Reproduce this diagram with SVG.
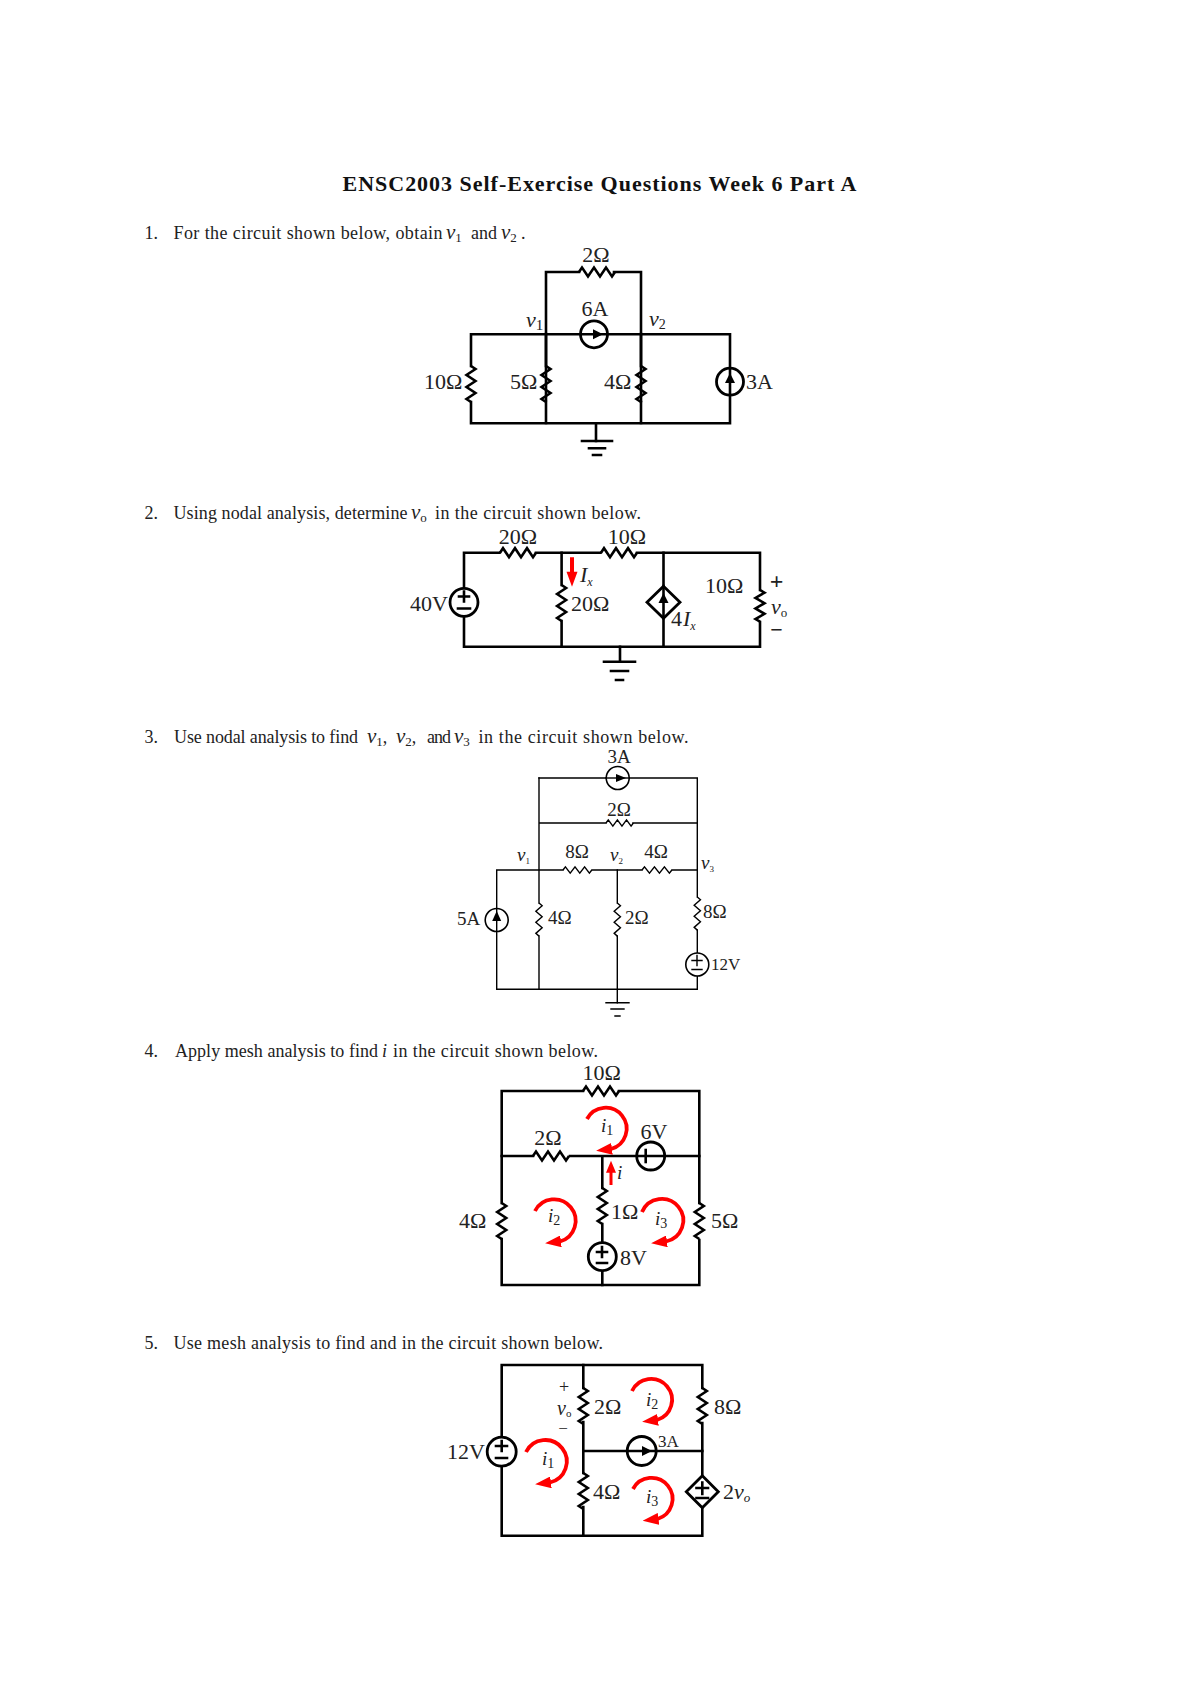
<svg xmlns="http://www.w3.org/2000/svg" width="1200" height="1696" viewBox="0 0 1200 1696" stroke-width="2.6">
<style>
text{font-family:"Liberation Serif","Times New Roman",serif;fill:#222;stroke:none}
.t{font-size:18px}
.h{font-size:22px;font-weight:bold;fill:#111}
.l{font-size:22px}
.m{font-size:19px}
.s{font-size:17px}
.i{font-style:italic}
.c{text-anchor:middle}
.n{font-style:normal}
.w,.w2,.b{fill:none;stroke:#000;stroke-linejoin:miter;stroke-linecap:square}
.w{stroke-width:2.6}
.w2{stroke-width:1.4}
.b{stroke-width:2.6}
.z{vector-effect:non-scaling-stroke;fill:none;stroke:#000;stroke-linejoin:miter}
.sr{fill:none;stroke:#000;stroke-width:2.8}
.sv{fill:#fff;stroke:#000;stroke-width:2.8}
.ar{fill:#000}
.ra{fill:none;stroke:#f00;stroke-width:3.8;marker-end:url(#rh)}
.rf{fill:#f00}
.q{font-size:21px;font-style:italic}
.th{stroke-width:1.4}
</style>
<defs>
<path id="rz" class="z" d="M0 0l3-4.5 6 9 6-9 6 9 6-9 6 9 3-4.5"/>
<marker id="rh" markerUnits="userSpaceOnUse" viewBox="0 0 16 12" refX="1" refY="6" markerWidth="16" markerHeight="12" orient="173"><path d="M0 0L16 6L0 12z" fill="#f00"/></marker>
</defs>

<g id="title"><text class="h" x="342.5" y="191" textLength="514" lengthAdjust="spacing">ENSC2003 Self-Exercise Questions Week 6 Part A</text></g>

<g id="q1-text" class="t">
<text x="144.5" y="239">1.</text>
<text x="173.5" y="239" textLength="269" lengthAdjust="spacing">For the circuit shown below, obtain</text>
<text class="q" x="446" y="239">v<tspan class="n" font-size="13" dy="3">1</tspan></text>
<text x="471" y="239" textLength="26" lengthAdjust="spacing">and</text>
<text class="q" x="501" y="239">v<tspan class="n" font-size="13" dy="3">2</tspan></text>
<text x="521" y="239">.</text>
</g>
<g id="q1-connectors">
<path class="w" d="M579 272H546V400M614 272H641V401"/>
<path class="w" d="M546 334.3H471V366M471 402V423.3H730V334.3H546"/>
<path class="w" d="M546 334V366M546 402V423M641 334V366M641 402V423M596 423.3V441"/>
<path class="b" d="M582 441H612M589 448.3H605M593 455H601"/>
</g>
<g id="q1-r2"><use href="#rz" transform="translate(579 272)"/><text class="l c" x="596" y="262">2Ω</text></g>
<g id="q1-is6"><circle class="sr" cx="594" cy="334.3" r="13.5"/><path class="ar" d="M603 334.3l-10-5v10z"/><text class="l c" x="595" y="316">6A</text></g>
<g id="q1-v1"><text class="l i" x="526" y="327">v<tspan class="n" font-size="15" dy="3">1</tspan></text></g>
<g id="q1-v2"><text class="l i" x="649" y="326">v<tspan class="n" font-size="14" dy="3">2</tspan></text></g>
<g id="q1-r10"><use href="#rz" transform="translate(471 366) rotate(90)"/><text class="l" x="424" y="389">10Ω</text></g>
<g id="q1-r5"><use href="#rz" transform="translate(546 366) rotate(90)"/><text class="l" x="510" y="389">5Ω</text></g>
<g id="q1-r4"><use href="#rz" transform="translate(641 366) rotate(90)"/><text class="l" x="604" y="389">4Ω</text></g>
<g id="q1-is3"><circle class="sr" cx="730" cy="381.7" r="13.5"/><path class="ar" d="M730 373l-5 10h10z"/><text class="l" x="746" y="389">3A</text></g>

<g id="q2-text" class="t">
<text x="144.5" y="519">2.</text>
<text x="173.5" y="519" textLength="234" lengthAdjust="spacing">Using nodal analysis, determine</text>
<text class="q" x="411" y="519">v<tspan class="n" font-size="13" dy="3">o</tspan></text>
<text x="435" y="519" textLength="206" lengthAdjust="spacing">in the circuit shown below.</text>
</g>
<g id="q2-connectors">
<path class="w" d="M499.5 552.7H464V646.7H760V622M760 590V552.7H637M600.5 552.7H536"/>
<path class="w" d="M561.6 552.7V585M561.6 621V646.7M663.5 552.7V646.7M620 646.7V661.7"/>
<path class="b" d="M604 661.7H635M611 671H628M616 680H623"/>
</g>
<g id="q2-r20a"><use href="#rz" transform="translate(500 552.7)"/><text class="l c" x="518" y="544">20Ω</text></g>
<g id="q2-r10a"><use href="#rz" transform="translate(601 552.7)"/><text class="l c" x="627" y="544">10Ω</text></g>
<g id="q2-vs40"><circle class="sv" cx="464" cy="602.3" r="14"/><path class="w" d="M459 596.5H469M464 591.5V601.5M458 608.5H470"/><text class="l" x="410" y="611">40V</text></g>
<g id="q2-r20b"><use href="#rz" transform="translate(561.6 585) rotate(90)"/><text class="l" x="571" y="611">20Ω</text></g>
<g id="q2-ix"><path class="rf" d="M572 586.7l-5.5-15h3.5V557.3h4V571.7h3.5z"/><text class="l i" x="580" y="582">I<tspan font-size="12" dy="4">x</tspan></text></g>
<g id="q2-dep"><path class="sv" d="M663.5 586.3L680 602.3L663.5 618.3L647 602.3z"/><path class="w" d="M663.5 586V618"/><path class="ar" d="M663.5 593l-5 10h10z"/><text class="l" x="671" y="626">4<tspan class="i" dx="1">I</tspan><tspan class="i" font-size="12" dy="4">x</tspan></text></g>
<g id="q2-r10b"><use href="#rz" transform="translate(760 590) rotate(90) scale(.88 1)"/><text class="l" x="705" y="593">10Ω</text></g>
<g id="q2-vo"><text class="c" font-size="24" x="776.5" y="589" font-weight="bold">+</text><text class="l i" x="771" y="614">v<tspan class="n" font-size="13" dy="3">o</tspan></text><text class="l c" x="776.5" y="637" font-weight="bold">−</text></g>

<g id="q3-text" class="t">
<text x="144.5" y="743">3.</text>
<text x="174" y="743" textLength="184" lengthAdjust="spacing">Use nodal analysis to find</text>
<text class="q" x="367" y="743">v<tspan class="n" font-size="13" dy="3">1</tspan><tspan class="n" font-size="18" dy="-3">,</tspan></text>
<text class="q" x="396" y="743">v<tspan class="n" font-size="13" dy="3">2</tspan><tspan class="n" font-size="18" dy="-3">,</tspan></text>
<text x="427" y="743" textLength="24" lengthAdjust="spacing">and</text>
<text class="q" x="454" y="743">v<tspan class="n" font-size="13" dy="3">3</tspan></text>
<text x="478.500" y="743" textLength="210" lengthAdjust="spacing">in the circuit shown below.</text>
</g>
<g id="q3-connectors">
<path class="w2" d="M539 778H697.3V897M697.3 930V953M697.3 976V989.3H496.7V870H563M592 870H642M672 870H697.3"/>
<path class="w2" d="M539 778V903M539 936V989M539 823H606M633 823H697M617.3 870V903M617.3 936V1002.7"/>
<path class="w2" d="M606 1002.7H629M611 1009H624M615 1016H620"/>
</g>
<g id="q3-is3"><circle class="sv" cx="617.7" cy="778" r="11.5" style="stroke-width:1.6"/><path class="w2" d="M606 778H629"/><path class="ar" d="M626 778l-10-4v8z"/><text class="m c" x="619" y="763">3A</text></g>
<g id="q3-r2a" class="th"><use href="#rz" transform="translate(606 823) scale(.76 .7)"/><text class="m c" x="619" y="816">2Ω</text></g>
<g id="q3-v1"><text class="m i" x="517" y="861">v<tspan class="n" font-size="9" dy="3">1</tspan></text></g>
<g id="q3-r8a" class="th"><use href="#rz" transform="translate(563 870) scale(.8 .7)"/><text class="m c" x="577" y="858">8Ω</text></g>
<g id="q3-v2"><text class="m i" x="610" y="861">v<tspan class="n" font-size="9" dy="3">2</tspan></text></g>
<g id="q3-r4a" class="th"><use href="#rz" transform="translate(642 870) scale(.83 .7)"/><text class="m c" x="656" y="858">4Ω</text></g>
<g id="q3-v3"><text class="m i" x="701" y="869">v<tspan class="n" font-size="9" dy="3">3</tspan></text></g>
<g id="q3-is5"><circle class="sr" cx="496.7" cy="920" r="11.5" style="stroke-width:1.6"/><path class="ar" d="M496.7 911l-4.500 10h9z"/><text class="m" x="457" y="925">5A</text></g>
<g id="q3-r4b" class="th"><use href="#rz" transform="translate(539 903) rotate(90) scale(.92 .7)"/><text class="m" x="548" y="924">4Ω</text></g>
<g id="q3-r2b" class="th"><use href="#rz" transform="translate(617.3 903) rotate(90) scale(.92 .7)"/><text class="m" x="625" y="924">2Ω</text></g>
<g id="q3-r8b" class="th"><use href="#rz" transform="translate(697.3 897) rotate(90) scale(.92 .7)"/><text class="m" x="703" y="918">8Ω</text></g>
<g id="q3-vs12"><circle class="sv" cx="697.3" cy="964.500" r="11.500" style="stroke-width:1.6"/><path class="w2" d="M692 960.500H702M697 955.500V965.500M692 969.500H702"/><text class="s" x="711" y="970">12V</text></g>

<g id="q4-text" class="t">
<text x="144.500" y="1057">4.</text>
<text x="175" y="1057" textLength="203" lengthAdjust="spacing">Apply mesh analysis to find</text>
<text class="i" x="382" y="1057">i</text>
<text x="393" y="1057" textLength="205" lengthAdjust="spacing">in the circuit shown below.</text>
</g>
<g id="q4-connectors">
<path class="w" d="M583 1091H501.700V1203M501.700 1239V1285H699.300V1240M699.300 1203V1091H619"/>
<path class="w" d="M501.700 1156H533M570 1156H699.300M602.300 1156V1188M602.300 1224V1285"/>
</g>
<g id="q4-r10"><use href="#rz" transform="translate(583 1091)"/><text class="l c" x="601.700" y="1080">10Ω</text></g>
<g id="q4-r2"><use href="#rz" transform="translate(533 1156)"/><text class="l c" x="548" y="1145">2Ω</text></g>
<g id="q4-vs6"><circle class="sr" cx="650.700" cy="1156" r="14"/><path class="w" d="M645.700 1150V1162"/><text class="l c" x="654" y="1139">6V</text></g>
<g id="q4-r4"><use href="#rz" transform="translate(501.700 1203) rotate(90)"/><text class="l" x="459" y="1228">4Ω</text></g>
<g id="q4-r1"><use href="#rz" transform="translate(602.300 1188) rotate(90)"/><text class="l" x="611" y="1219">1Ω</text></g>
<g id="q4-r5"><use href="#rz" transform="translate(699.300 1203) rotate(90)"/><text class="l" x="711" y="1228">5Ω</text></g>
<g id="q4-vs8"><circle class="sv" cx="602.300" cy="1256.700" r="14"/><path class="w" d="M597 1252H607M602 1247V1257M597 1263H607"/><text class="l" x="620" y="1265">8V</text></g>
<g id="q4-i"><path class="rf" d="M611 1160.700l-5 12h3.500V1185h3V1172.700h3.500z"/><text class="m i" x="617" y="1179">i</text></g>
<g id="q4-mesh1"><path class="ra" d="M587 1119A21 21 0 1 1 611 1149"/><text class="m i" x="601" y="1132">i<tspan class="n" font-size="14" dy="3">1</tspan></text></g>
<g id="q4-mesh2"><path class="ra" d="M535 1211A21.500 21.500 0 1 1 560 1241.500"/><text class="m i" x="548" y="1222">i<tspan class="n" font-size="14" dy="3">2</tspan></text></g>
<g id="q4-mesh3"><path class="ra" d="M642 1212A21.500 21.500 0 1 1 666 1241.500"/><text class="m i" x="655" y="1225">i<tspan class="n" font-size="14" dy="3">3</tspan></text></g>

<g id="q5-text" class="t">
<text x="144.500" y="1349">5.</text>
<text x="173.500" y="1349" textLength="429.500" lengthAdjust="spacing">Use mesh analysis to find and in the circuit shown below.</text>
</g>
<g id="q5-connectors">
<path class="w" d="M501.700 1437V1365H702.300V1388M702.300 1423V1475M702.300 1508V1535.700H501.700V1466"/>
<path class="w" d="M583.300 1365V1388M583.300 1422V1473M583.300 1507V1535.700M583.300 1451H702.300"/>
</g>
<g id="q5-vs12"><circle class="sv" cx="501.700" cy="1451.700" r="14.500"/><path class="w" d="M496 1446H507M501.700 1441V1451M496 1458H507"/><text class="l" x="447" y="1459">12V</text></g>
<g id="q5-vo"><text class="c" font-size="18" x="564" y="1393">+</text><text class="i" font-size="20" x="557" y="1414.500">v<tspan class="n" font-size="11" dy="2">o</tspan></text><text class="c" font-size="17" x="563" y="1434">−</text></g>
<g id="q5-r2"><use href="#rz" transform="translate(583.300 1388) rotate(90)"/><text class="l" x="594" y="1414">2Ω</text></g>
<g id="q5-r8"><use href="#rz" transform="translate(702.300 1388) rotate(90)"/><text class="l" x="714" y="1414">8Ω</text></g>
<g id="q5-r4"><use href="#rz" transform="translate(583.300 1473) rotate(90)"/><text class="l" x="593" y="1499">4Ω</text></g>
<g id="q5-is3"><circle class="sr" cx="641.700" cy="1451" r="14.500"/><path class="ar" d="M652 1451l-10-5v10z"/><text class="s" x="658" y="1447">3A</text></g>
<g id="q5-dep"><path class="sv" d="M702.300 1475.700L718.300 1491.700L702.300 1507.700L686.300 1491.700z"/><path class="w" d="M696.500 1488H708M702.300 1482.500V1494M696.500 1498H708"/><text class="l" x="723" y="1499">2<tspan class="i">v</tspan><tspan class="i" font-size="13" dy="3">o</tspan></text></g>
<g id="q5-mesh1"><path class="ra" d="M526 1452A21.500 21.500 0 1 1 550 1482.500"/><text class="m i" x="542" y="1465">i<tspan class="n" font-size="14" dy="3">1</tspan></text></g>
<g id="q5-mesh2"><path class="ra" d="M632 1391A21 21 0 1 1 657 1420"/><text class="m i" x="646" y="1406">i<tspan class="n" font-size="14" dy="3">2</tspan></text></g>
<g id="q5-mesh3"><path class="ra" d="M633 1489A21 21 0 1 1 657.500 1519"/><text class="m i" x="646" y="1503">i<tspan class="n" font-size="14" dy="3">3</tspan></text></g>
</svg>
